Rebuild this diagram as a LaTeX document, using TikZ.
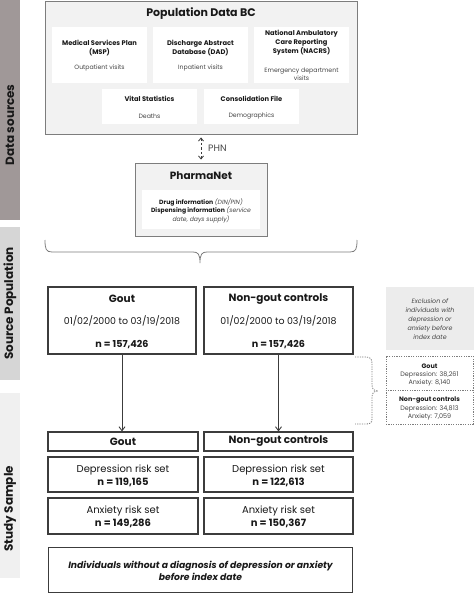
\documentclass[tikz,border=0pt]{standalone}
\usepackage{fontspec}
\setmainfont{Poppins}
\usetikzlibrary{arrows.meta}
\definecolor{barA}{RGB}{160,152,152}
\definecolor{barB}{RGB}{214,214,214}
\definecolor{barC}{RGB}{240,240,240}
\definecolor{panel}{RGB}{242,242,242}
\definecolor{exclg}{RGB}{236,236,236}
\definecolor{frameg}{RGB}{125,125,125}
\definecolor{boxline}{RGB}{60,60,60}
\definecolor{txt}{RGB}{25,25,25}
\definecolor{subtxt}{RGB}{70,70,70}
\begin{document}
\begin{tikzpicture}[x=1pt,y=-1pt,
  panelbox/.style={draw=frameg, fill=panel, line width=0.9pt, inner sep=0},
  whitebox/.style={fill=white, draw=none, inner sep=0},
  mainbox/.style={draw=boxline, fill=white, line width=1.1pt, inner sep=0},
  sidebar/.style={inner sep=0, draw=none},
  sidelabel/.style={rotate=90, inner sep=0, font=\fontsize{12}{14}\selectfont\bfseries, text=txt},
  tx/.style={inner sep=0, align=center, text=txt},
  smallhead/.style={tx, font=\fontsize{6.7}{9}\selectfont\bfseries},
  smallsub/.style={tx, text=subtxt, font=\fontsize{6.2}{8}\selectfont},
  bighead/.style={tx, font=\fontsize{10.5}{12}\selectfont\bfseries},
  midtext/.style={tx, font=\fontsize{9.4}{12}\selectfont},
  midbold/.style={tx, font=\fontsize{9.6}{12}\selectfont\bfseries},
  rstext/.style={tx, font=\fontsize{10}{13}\selectfont},
  exctext/.style={tx, text=subtxt, font=\fontsize{6.3}{9}\selectfont\itshape},
  exchead/.style={tx, font=\fontsize{6.4}{8.4}\selectfont\bfseries},
  excnum/.style={tx, text=subtxt, font=\fontsize{6.4}{8.4}\selectfont},
  arr/.style={draw=boxline, line width=0.9pt, -{Straight Barb[length=4pt,width=6pt]}},
  bracel/.style={draw=frameg, line width=0.8pt},
]
\useasboundingbox (0,0) rectangle (474,594);

% side bars
\node[sidebar, fill=barA, minimum width=20, minimum height=220] (barDS) at (10,110) {};
\node[sidebar, fill=barB, minimum width=20, minimum height=153] (barSP) at (10,303.5) {};
\node[sidebar, fill=barC, minimum width=20, minimum height=185] (barSS) at (10,485.5) {};
\node[sidelabel] (lblDS) at (10,125) {Data sources};
\node[sidelabel] (lblSP) at (10,303.5) {Source Population};
\node[sidelabel] (lblSS) at (10,509) {Study Sample};

% Population Data BC
\node[panelbox, minimum width=312, minimum height=133] (popbc) at (201,67.5) {};
\node[tx, font=\fontsize{11}{13}\selectfont\bfseries] (popbcT) at (201,14) {Population Data BC};
\node[whitebox, minimum width=95, minimum height=56] (msp) at (99.5,55) {};
\node[whitebox, minimum width=95, minimum height=56] (dad) at (200.5,55) {};
\node[whitebox, minimum width=95, minimum height=56] (nacrs) at (301.5,55) {};
\node[whitebox, minimum width=95, minimum height=35] (vital) at (149.5,106.5) {};
\node[whitebox, minimum width=95, minimum height=35] (consol) at (251.5,106.5) {};
\node[smallhead] (mspT) at (99.5,48.5) {Medical Services Plan\\(MSP)};
\node[smallsub] (mspS) at (99.5,68) {Outpatient visits};
\node[smallhead] (dadT) at (200.5,48.5) {Discharge Abstract\\Database (DAD)};
\node[smallsub] (dadS) at (200.5,68) {Inpatient visits};
\node[smallhead] (nacrsT) at (301.5,43) {National Ambulatory\\Care Reporting\\System (NACRS)};
\node[smallsub] (nacrsS) at (301.5,74) {Emergency department\\visits};
\node[smallhead] (vitalT) at (149.5,99) {Vital Statistics};
\node[smallsub] (vitalS) at (149.5,116) {Deaths};
\node[smallhead] (consolT) at (251.5,99) {Consolidation File};
\node[smallsub] (consolS) at (251.5,116) {Demographics};

% PharmaNet
\node[panelbox, minimum width=132, minimum height=73] (pharma) at (201,199.5) {};
\node[tx, font=\fontsize{10.5}{12}\selectfont\bfseries] (pharmaT) at (201,176) {PharmaNet};
\node[whitebox, minimum width=118, minimum height=39] (pharmaIn) at (201,209.5) {};
\node[tx, font=\fontsize{6.1}{8.5}\selectfont, text=subtxt] (pharmaS) at (201,210.5)
  {\textcolor{txt}{\bfseries Drug information} \textit{(DIN/PIN)}\\
   \textcolor{txt}{\bfseries Dispensing information} \textit{(service}\\
   \textit{date, days supply)}};

% PHN link
\path (popbc.south -| pharma.north) ++(0,3) coordinate (phnA);
\path (pharma.north) ++(0,-3) coordinate (phnB);
\draw[draw=boxline, line width=0.8pt, dash pattern=on 2.5pt off 2pt,
  {Straight Barb[length=3pt,width=5pt]}-{Straight Barb[length=3pt,width=5pt]}] (phnA) -- (phnB);
\node[tx, anchor=west, font=\fontsize{9.3}{11}\selectfont, text=subtxt] (phn) at (208,148) {PHN};

% brace under data sources
\draw[bracel] (45,240) .. controls (45,249) and (46,252) .. (52,252) -- (193,252)
  .. controls (198,252) and (200,254) .. (200,263)
  .. controls (200,254) and (202,252) .. (207,252) -- (350,252)
  .. controls (356,252) and (357,249) .. (357,240);

% Source population
\node[mainbox, minimum width=148, minimum height=67] (srcG) at (122,320.5) {};
\node[mainbox, minimum width=149, minimum height=67] (srcN) at (278.5,320.5) {};
\node[bighead] (srcGT) at (122,299) {Gout};
\node[bighead] (srcNT) at (278.5,299) {Non-gout controls};
\node[midtext] (srcGD) at (122,321) {01/02/2000 to 03/19/2018};
\node[midtext] (srcND) at (278.5,321) {01/02/2000 to 03/19/2018};
\node[midbold] (srcGN) at (122,345) {n = 157,426};
\node[midbold] (srcNN) at (278.5,345) {n = 157,426};

% Exclusion
\node[fill=exclg, draw=none, inner sep=0, minimum width=88, minimum height=63] (excl) at (430,318.5) {};
\node[exctext] (exclT) at (430,319) {Exclusion of\\individuals with\\depression or\\anxiety before\\index date};
\node[draw=frameg, dash pattern=on 1.2pt off 1.2pt, line width=0.8pt, inner sep=0,
  minimum width=87, minimum height=68] (exn) at (429.5,390) {};
\draw[draw=frameg, dash pattern=on 1.2pt off 1.2pt, line width=0.8pt] (exn.west) -- (exn.east);
\node[exchead] (exGT) at (429.5,366) {Gout};
\node[excnum] (exGN) at (429.5,379) {Depression: 38,261\\Anxiety: 8,140};
\node[exchead] (exNT) at (429.5,400) {Non-gout controls};
\node[excnum] (exNN) at (429.5,413) {Depression: 34,813\\Anxiety: 7,059};

% dashed brace
\draw[draw=frameg, line width=0.8pt, dash pattern=on 1.2pt off 1.2pt]
  (355,357) -- (366,357) .. controls (370,357) and (372,359) .. (372,363) -- (372,385)
  .. controls (372,389) and (374,391) .. (378,391)
  .. controls (374,391) and (372,393) .. (372,397) -- (372,419)
  .. controls (372,423) and (370,424) .. (366,424) -- (355,424);

% Study sample
\node[mainbox, minimum width=150, minimum height=19] (hdG) at (123,441.5) {};
\node[mainbox, minimum width=149, minimum height=19] (hdN) at (278.5,441.5) {};
\node[bighead] at (hdG) (hdGT) {Gout};
\node[bighead] at (hdN) (hdNT) {Non-gout controls};
\draw[arr] (srcG.south) -- (srcG.south |- hdG.north);
\draw[arr] (srcN.south) -- (srcN.south |- hdN.north);

\node[mainbox, minimum width=150, minimum height=35] (depG) at (123,474.5) {};
\node[mainbox, minimum width=149, minimum height=35] (depN) at (278.5,474.5) {};
\node[rstext] (depGT) at (123,475.5) {Depression risk set\\\textbf{n = 119,165}};
\node[rstext] (depNT) at (278.5,475.5) {Depression risk set\\\textbf{n = 122,613}};
\node[mainbox, minimum width=150, minimum height=36] (anxG) at (123,516) {};
\node[mainbox, minimum width=149, minimum height=36] (anxN) at (278.5,516) {};
\node[rstext] (anxGT) at (123,517) {Anxiety risk set\\\textbf{n = 149,286}};
\node[rstext] (anxNT) at (278.5,517) {Anxiety risk set\\\textbf{n = 150,367}};

\node[mainbox, line width=1.8pt, minimum width=304, minimum height=45] (final) at (200.5,570) {};
\node[tx, font=\fontsize{9.2}{12}\selectfont\bfseries\itshape] (finalT) at (200.5,571)
  {Individuals without a diagnosis of depression or anxiety\\before index date};
\end{tikzpicture}
\end{document}
